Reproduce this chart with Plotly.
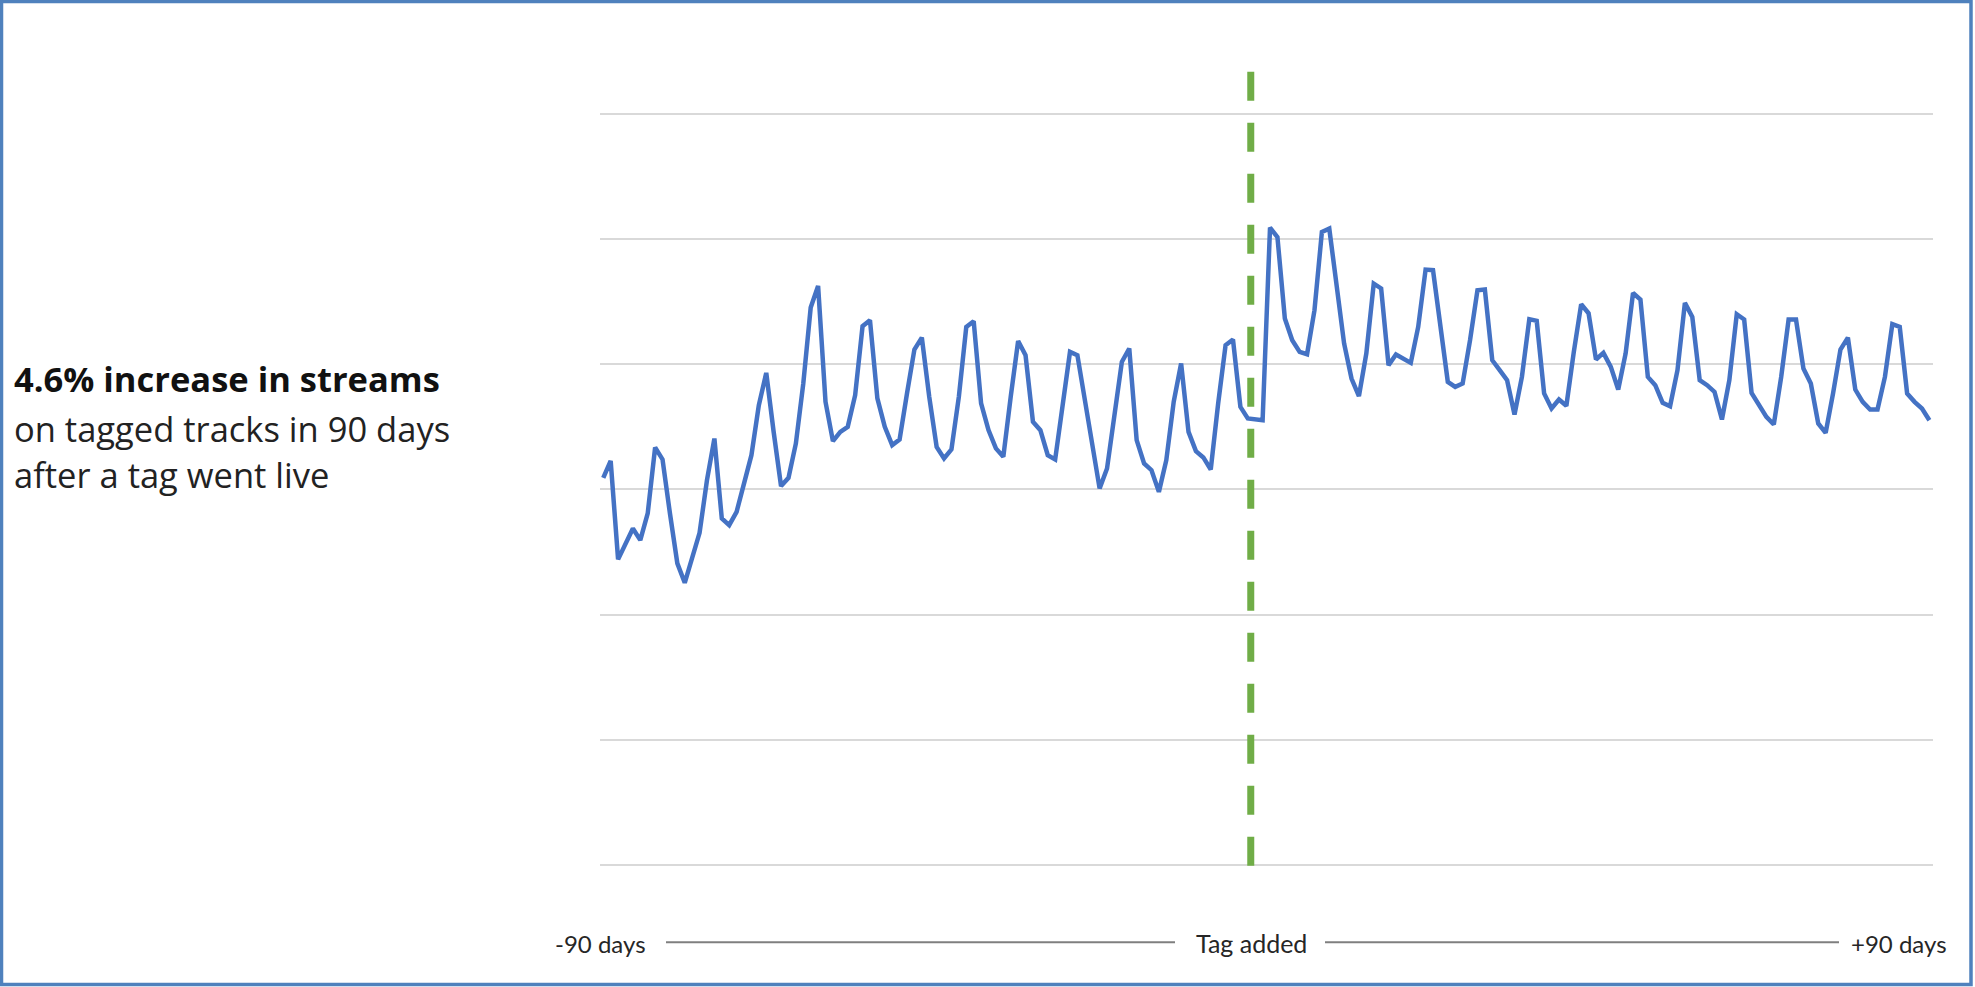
import plotly.graph_objects as go

# ---- data ----
days = list(range(-90, 90))
streams = [
    30.91, 32.27, 24.40, 25.54, 26.87, 25.94, 28.07, 33.34, 32.38, 28.07,
    24.08, 22.53, 24.61, 26.52, 30.73, 34.05, 27.67, 27.13, 28.20, 30.46,
    32.72, 36.71, 39.29, 34.58, 30.25, 30.91, 33.66, 38.44, 44.51, 46.23,
    36.98, 33.84, 34.58, 34.98, 37.51, 43.02, 43.50, 37.25, 34.98, 33.52,
    33.97, 37.65, 41.16, 42.11, 37.38, 33.38, 32.46, 33.18, 37.38, 42.96,
    43.42, 36.85, 34.72, 33.26, 32.59, 37.38, 41.84, 40.70, 35.38, 34.72,
    32.72, 32.38, 36.85, 40.97, 40.70, 37.11, 33.92, 30.06, 31.66, 36.05,
    40.17, 41.24, 33.92, 32.06, 31.52, 29.79, 32.32, 36.98, 40.04, 34.58,
    33.04, 32.54, 31.58, 36.85, 41.50, 41.95, 36.58, 35.65, 35.57, 35.51,
    50.89, 50.14, 43.63, 41.90, 40.97, 40.78, 44.29, 50.54, 50.81, 46.15,
    41.64, 38.84, 37.43, 40.84, 46.42, 46.03, 39.90, 40.76, 40.44, 40.09,
    42.96, 47.54, 47.49, 42.70, 38.57, 38.17, 38.44, 41.90, 45.89, 45.95,
    40.30, 39.51, 38.71, 35.97, 38.97, 43.58, 43.44, 37.65, 36.45, 37.17,
    36.66, 40.94, 44.77, 44.05, 40.36, 40.89, 39.77, 37.96, 40.84, 45.67,
    45.15, 38.97, 38.31, 36.90, 36.63, 39.51, 44.88, 43.76, 38.71, 38.31,
    37.77, 35.57, 38.71, 43.97, 43.55, 37.69, 36.71, 35.78, 35.17, 38.97,
    43.55, 43.55, 39.64, 38.44, 35.25, 34.50, 37.65, 41.16, 42.11, 37.96,
    36.98, 36.37, 36.37, 38.97, 43.18, 42.96, 37.65, 36.98, 36.45, 35.51,
]
tag_day = -2.6
headline = "4.6% increase in streams"
sub_lines = ["on tagged tracks in 90 days", "after a tag went live"]
bottom_labels = ["-90 days", "Tag added", "+90 days"]

W, H = 1975, 987


def px(x):
    return x / W


def py(y):
    return (H - y) / H


fig = go.Figure()
fig.add_trace(go.Scatter(
    x=days, y=streams, mode="lines",
    line=dict(color="#4472C4", width=4.5),
    hoverinfo="skip", showlegend=False,
))

fig.update_layout(
    width=W, height=H,
    margin=dict(l=0, r=0, t=0, b=0),
    paper_bgcolor="white", plot_bgcolor="white",
    showlegend=False,
    xaxis=dict(domain=[px(600), px(1933)], range=[-90.44, 89.49],
               showgrid=False, zeroline=False, showticklabels=False,
               showline=False, ticks=""),
    yaxis=dict(domain=[py(867.5), py(111)], range=[-0.2, 60.2],
               tick0=0, dtick=10, showgrid=True, gridcolor="#d9d9d9",
               gridwidth=1.5, zeroline=False, showticklabels=False,
               showline=False, ticks=""),
)

# dashed green "tag added" marker
fig.add_shape(type="line", xref="x", yref="paper",
              x0=tag_day, x1=tag_day, y0=py(71.7), y1=py(866),
              line=dict(color="#70AD47", width=7, dash="29px,22px"))

# bottom timeline rules
for x0, x1 in [(666, 1175), (1325, 1839)]:
    fig.add_shape(type="line", xref="paper", yref="paper",
                  x0=px(x0), x1=px(x1), y0=py(942.3), y1=py(942.3),
                  line=dict(color="#7f7f7f", width=2))

# frame
fig.add_shape(type="rect", xref="paper", yref="paper",
              x0=px(1.5), x1=px(1971), y0=py(1.5), y1=py(984.5),
              line=dict(color="#4F81BD", width=3.5))

bfont = dict(family="Lato, 'Open Sans', sans-serif", size=24, color="#262626")
fig.add_annotation(x=px(553), y=py(943), xref="paper", yref="paper",
                   text=bottom_labels[0], showarrow=False,
                   xanchor="left", yanchor="middle", font=bfont)
fig.add_annotation(x=px(1251), y=py(943), xref="paper", yref="paper",
                   text=bottom_labels[1], showarrow=False,
                   xanchor="center", yanchor="middle",
                   font=dict(bfont, size=25))
fig.add_annotation(x=px(1949), y=py(943), xref="paper", yref="paper",
                   text=bottom_labels[2], showarrow=False,
                   xanchor="right", yanchor="middle", font=bfont)

# left commentary
fig.add_annotation(x=px(12), y=py(379), xref="paper", yref="paper",
                   text="<b>" + headline + "</b>", showarrow=False,
                   xanchor="left", yanchor="middle",
                   font=dict(family="'Open Sans', sans-serif", size=34.5, color="#111111"))
for i, line in enumerate(sub_lines):
    fig.add_annotation(x=px(12), y=py(428 + 47 * i), xref="paper", yref="paper",
                       text=line, showarrow=False,
                       xanchor="left", yanchor="middle",
                       font=dict(family="'Open Sans', sans-serif", size=34.5, color="#222222"))

fig.write_html("out.html",
               config={"displayModeBar": False},
               post_script="document.body.style.margin='0px';document.body.style.overflow='hidden';")
